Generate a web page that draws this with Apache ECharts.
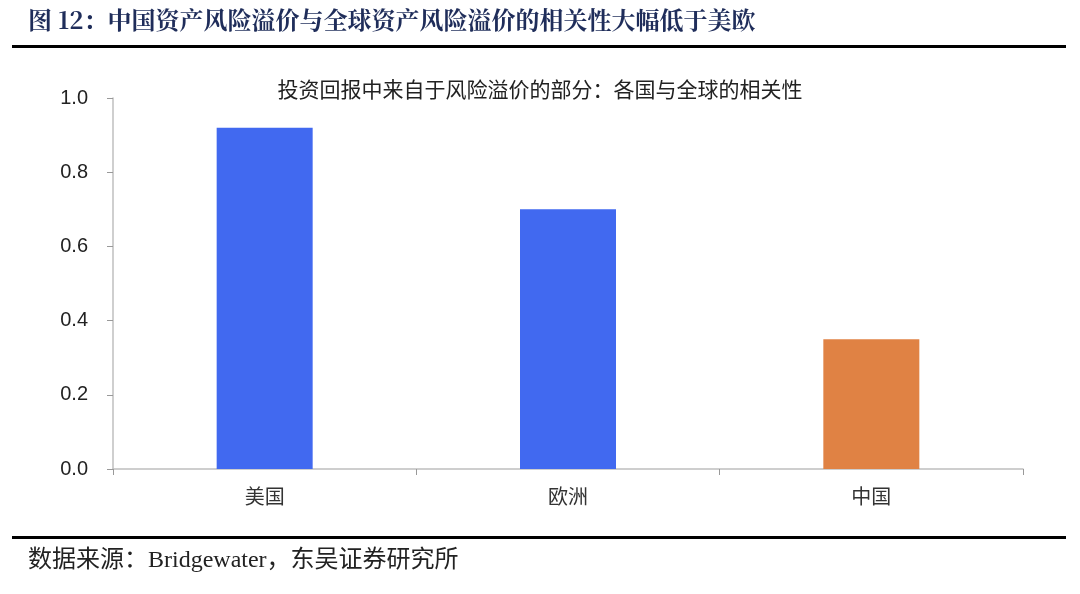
<!DOCTYPE html>
<html>
<head>
<meta charset="utf-8">
<script src="https://cdn.jsdelivr.net/npm/echarts@6/dist/echarts.min.js"></script>
<style>
  html, body { margin: 0; padding: 0; background: #fff; }
  #main { width: 1080px; height: 594px; }
</style>
</head>
<body>
<div id="main"></div>
<script>
// 数据
const categories = ['美国', '欧洲', '中国'];
const values = [0.92, 0.70, 0.35];
const barColors = ['#4169F0', '#4169F0', '#E08244'];
const yTicks = [0, 0.2, 0.4, 0.6, 0.8, 1.0];

const figTitle = '图 12：中国资产风险溢价与全球资产风险溢价的相关性大幅低于美欧';
const chartTitle = '投资回报中来自于风险溢价的部分：各国与全球的相关性';
const sourceText = '数据来源：Bridgewater，东吴证券研究所';

const chart = echarts.init(document.getElementById('main'));

const option = {
  backgroundColor: '#fff',
  animation: false,
  title: {
    text: chartTitle,
    left: 'center',
    top: 74,
    textStyle: {
      fontFamily: 'Noto Sans CJK SC',
      fontSize: 21,
      fontWeight: 'normal',
      color: '#222',
    },
  },
  graphic: [
    {
      type: 'text',
      left: 28,
      top: 8,
      style: {
        text: figTitle,
        fontFamily: 'Noto Serif CJK SC, Noto Sans CJK SC',
        fontSize: 24,
        fontWeight: 'bold',
        fill: '#1F2D5A',
      },
    },
    {
      type: 'rect',
      shape: { x: 12, y: 45, width: 1054, height: 3 },
      style: { fill: '#000' },
    },
    {
      type: 'rect',
      shape: { x: 12, y: 536, width: 1054, height: 3 },
      style: { fill: '#000' },
    },
    {
      type: 'text',
      left: 28,
      top: 549,
      style: {
        text: sourceText,
        fontFamily: 'Liberation Serif, Noto Sans CJK SC',
        fontSize: 24,
        fill: '#222',
      },
    },
  ],
  grid: {
    left: 113,
    right: 57,
    top: 98,
    bottom: 125,
  },
  xAxis: {
    type: 'category',
    data: categories,
    axisLine: { show: true, lineStyle: { color: '#BFBFBF', width: 1.5 } },
    axisTick: { show: true, length: 6, lineStyle: { color: '#999' } },
    axisLabel: {
      margin: 17,
      fontFamily: 'Noto Sans CJK SC',
      fontSize: 20,
      color: '#333',
    },
  },
  yAxis: {
    type: 'value',
    min: 0,
    max: 1,
    interval: 0.2,
    axisLine: { show: true, lineStyle: { color: '#BFBFBF', width: 1.5 } },
    axisTick: { show: true, length: 6, lineStyle: { color: '#999' } },
    splitLine: { show: false },
    axisLabel: {
      margin: 25,
      fontFamily: 'Liberation Sans, Arial',
      fontSize: 20,
      color: '#222',
      formatter: (v) => {
        const t = yTicks.find((x) => Math.abs(x - v) < 1e-9);
        return (t !== undefined ? t : v).toFixed(1);
      },
    },
  },
  series: [
    {
      type: 'bar',
      barWidth: 96,
      data: values.map((v, i) => ({
        value: v,
        itemStyle: { color: barColors[i] },
      })),
    },
  ],
};

chart.setOption(option);
</script>
</body>
</html>
